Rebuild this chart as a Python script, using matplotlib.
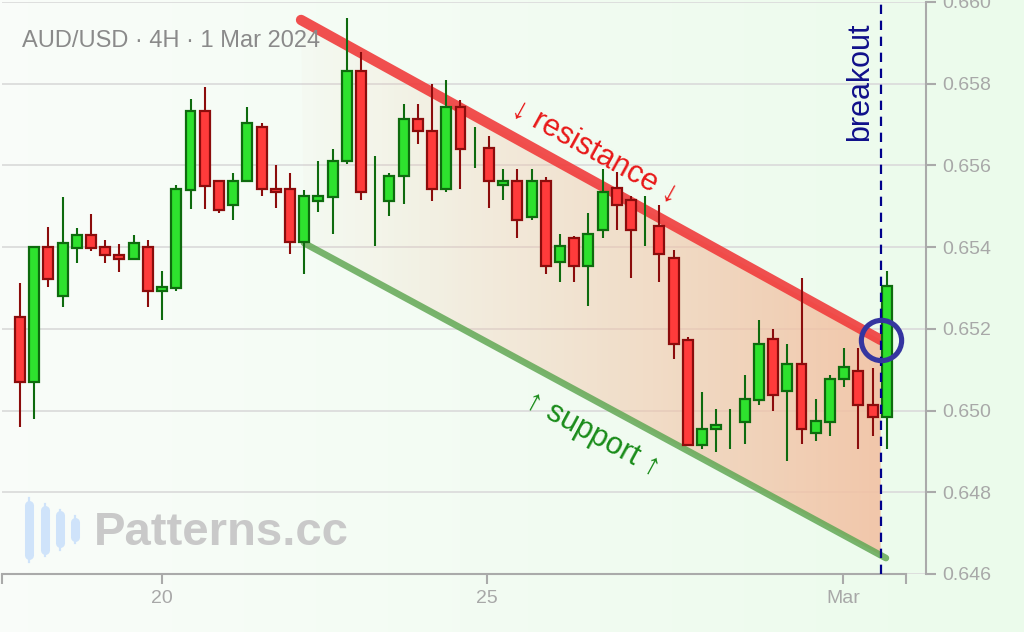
import numpy as np
import matplotlib.pyplot as plt
from matplotlib.patches import Rectangle, Polygon
from matplotlib.lines import Line2D

plt.rcParams['font.family'] = ['Liberation Sans', 'DejaVu Sans']

# 4H candles, AUD/USD
opens = [0.65229, 0.65071, 0.65400, 0.65281, 0.65399, 0.65430, 0.65400, 0.65381,
         0.65370, 0.65400, 0.65292, 0.65301, 0.65541, 0.65733, 0.65562, 0.65504,
         0.65562, 0.65695, 0.65543, 0.65543, 0.65412, 0.65514, 0.65522, 0.65611,
         0.65831, 0.65555, 0.65514, 0.65573, 0.65714, 0.65685, 0.65543, 0.65743,
         0.65640, 0.65642, 0.65553, 0.65563, 0.65474, 0.65563, 0.65363, 0.65423,
         0.65354, 0.65441, 0.65545, 0.65515, 0.65460, 0.65451, 0.65374, 0.65173,
         0.64915, 0.64955, 0.64960, 0.64973, 0.65026, 0.65174, 0.65048, 0.65115,
         0.64945, 0.64973, 0.65077, 0.65096, 0.65014, 0.64984]
highs = [0.65312, 0.65400, 0.65449, 0.65523, 0.65447, 0.65482, 0.65418, 0.65408,
         0.65429, 0.65418, 0.65341, 0.65551, 0.65762, 0.65792, 0.65562, 0.65581,
         0.65742, 0.65703, 0.65601, 0.65581, 0.65540, 0.65611, 0.65639, 0.65962,
         0.65877, 0.65622, 0.65581, 0.65751, 0.65751, 0.65800, 0.65810, 0.65761,
         0.65695, 0.65671, 0.65591, 0.65591, 0.65591, 0.65572, 0.65431, 0.65428,
         0.65484, 0.65591, 0.65583, 0.65524, 0.65524, 0.65504, 0.65393, 0.65181,
         0.65045, 0.65003, 0.65003, 0.65087, 0.65222, 0.65200, 0.65164, 0.65324,
         0.65028, 0.65087, 0.65153, 0.65153, 0.65105, 0.65342]
lows = [0.64960, 0.64980, 0.65302, 0.65253, 0.65361, 0.65390, 0.65361, 0.65339,
        0.65370, 0.65253, 0.65221, 0.65292, 0.65494, 0.65494, 0.65484, 0.65466,
        0.65562, 0.65524, 0.65496, 0.65384, 0.65335, 0.65486, 0.65432, 0.65603,
        0.65516, 0.65403, 0.65475, 0.65505, 0.65652, 0.65514, 0.65534, 0.65543,
        0.65593, 0.65496, 0.65516, 0.65423, 0.65467, 0.65335, 0.65315, 0.65315,
        0.65256, 0.65423, 0.65443, 0.65325, 0.65402, 0.65315, 0.65126, 0.64915,
        0.64907, 0.64898, 0.64907, 0.64917, 0.65014, 0.65000, 0.64877, 0.64917,
        0.64926, 0.64937, 0.65058, 0.64907, 0.64937, 0.64907]
closes = [0.65071, 0.65400, 0.65321, 0.65410, 0.65429, 0.65399, 0.65380, 0.65370,
          0.65410, 0.65292, 0.65302, 0.65543, 0.65733, 0.65550, 0.65492, 0.65563,
          0.65704, 0.65543, 0.65534, 0.65412, 0.65524, 0.65524, 0.65612, 0.65831,
          0.65534, 0.65555, 0.65573, 0.65714, 0.65684, 0.65543, 0.65743, 0.65640,
          0.65640, 0.65563, 0.65563, 0.65466, 0.65563, 0.65354, 0.65402, 0.65354,
          0.65433, 0.65535, 0.65504, 0.65441, 0.65460, 0.65382, 0.65163, 0.64915,
          0.64954, 0.64965, 0.64960, 0.65028, 0.65164, 0.65038, 0.65115, 0.64955,
          0.64975, 0.65077, 0.65106, 0.65014, 0.64984, 0.65305]

x_tick_pos = [10, 32.86, 57.92]
x_tick_labels = ['20', '25', 'Mar']
y_ticks = [0.646, 0.648, 0.650, 0.652, 0.654, 0.656, 0.658, 0.660]

# channel lines (candle index, price)
res_x = [19.78, 60.57]
res_y = [0.65956, 0.65173]
sup_x = [19.99, 60.94]
sup_y = [0.65410, 0.64639]
breakout_x = 60.57


def line_at(xs, ys, x):
    return ys[0] + (ys[1] - ys[0]) * (x - xs[0]) / (xs[1] - xs[0])


W, H = 1024, 632
fig = plt.figure(figsize=(W / 100, H / 100), dpi=100)

# pale green background
bg = fig.add_axes([0, 0, 1, 1], zorder=-10)
g = np.linspace(0, 1, 256)
c0 = np.array([0.978, 0.990, 0.978])
c1 = np.array([0.922, 0.986, 0.922])
bg.imshow((c0 + (c1 - c0) * g[:, None])[None, :, :], aspect='auto', extent=[0, 1, 0, 1])
bg.axis('off')

ax = fig.add_axes([2 / W, 1 - 574 / H, 924 / W, 572 / H])
ax.patch.set_alpha(0)
xlim = (-1.267, 63.76)
ylim = (0.646, 0.660)

# channel fill with gradient
poly = [(res_x[0], res_y[0]),
        (breakout_x, line_at(res_x, res_y, breakout_x)),
        (breakout_x, line_at(sup_x, sup_y, breakout_x)),
        (sup_x[0], sup_y[0])]
clip = Polygon(poly, closed=True, facecolor='none', edgecolor='none')
ax.add_patch(clip)
t = np.linspace(0, 1, 200)
rgba = np.zeros((2, 200, 4))
rgba[..., :3] = (0.950, 0.760, 0.640)
rgba[..., 3] = 0.04 + 0.86 * t ** 1.1
im = ax.imshow(rgba, extent=[res_x[0], breakout_x, ylim[0], ylim[1]], aspect='auto',
               origin='lower', zorder=1, interpolation='bilinear')
im.set_clip_path(clip)

# channel lines
ax.plot(res_x, res_y, color='#f03c3c', lw=7.5, alpha=0.9, solid_capstyle='round', zorder=2)
ax.plot(sup_x, sup_y, color='#62a855', lw=4.8, alpha=0.85, solid_capstyle='round', zorder=2)

# candles
bw = 0.7
for i, (o, h, l, c) in enumerate(zip(opens, highs, lows, closes)):
    up = c >= o
    fill = '#2ee22e' if up else '#ff3b3b'
    edge = '#0e6b0e' if up else '#8b0c0c'
    ax.plot([i, i], [l, h], color=edge, lw=1.5, zorder=3, solid_capstyle='butt')
    if o != c:
        ax.add_patch(Rectangle((i - bw / 2, min(o, c)), bw, abs(c - o),
                               facecolor=fill, edgecolor=edge, lw=1.6, zorder=4))

# breakout marker
ax.axvline(breakout_x, color='#00008b', lw=1.6, dashes=(4.2, 3.0), zorder=5)
ax.plot([breakout_x], [line_at(res_x, res_y, breakout_x)], 'o', ms=29, mfc='none',
        mec='#3535a0', mew=3.7, zorder=6)

ax.set_xlim(*xlim)
ax.set_ylim(*ylim)

# labels along the channel
def angle_of(xs, ys):
    p = ax.transData.transform(list(zip(xs, ys)))
    return np.degrees(np.arctan2(p[1][1] - p[0][1], p[1][0] - p[0][0]))

ax.text(40.46, 0.65633, '↓ resistance ↓', color='#e81818', fontsize=22,
        rotation=angle_of(res_x, res_y), rotation_mode='anchor', ha='center', va='center', zorder=5)
ax.text(40.32, 0.64942, '↑ support ↑', color='#1a8c1a', fontsize=22,
        rotation=angle_of(sup_x, sup_y), rotation_mode='anchor', ha='center', va='center', zorder=5)
ax.text(59.1, 0.65804, 'breakout', color='#10108a', fontsize=22, rotation=90,
        ha='center', va='center', zorder=5)

# axes styling
ax.yaxis.grid(True, color='#dcdcdc', lw=1.3, zorder=0)
ax.set_axisbelow(True)
ax.yaxis.tick_right()
ax.set_yticks(y_ticks)
ax.set_yticklabels([f'{v:.3f}' for v in y_ticks])
ax.set_xticks([xlim[0]] + x_tick_pos + [62.35])
ax.set_xticklabels([''] + x_tick_labels + [''])
for s in ['left', 'top']:
    ax.spines[s].set_visible(False)
for s in ['right', 'bottom']:
    ax.spines[s].set_color('#aaaaaa')
    ax.spines[s].set_linewidth(1.5)
ax.spines['bottom'].set_bounds(xlim[0], 62.35)
ax.tick_params(axis='both', direction='out', length=7.5, width=1.5, color='#aaaaaa',
               labelcolor='#a8a8a8', labelsize=14, pad=4)

# title and watermark
fig.text(22 / W, 1 - 41 / H, 'AUD/USD · 4H · 1 Mar 2024', color='#8a8a8a', fontsize=17,
         ha='left', va='center')
fig.text(94 / W, 1 - 533 / H, 'Patterns.cc', color='#c9c9c9', fontsize=34,
         fontweight='bold', ha='left', va='center')
logo = [(29, 498, 562, 505, 555), (45, 504, 556, 510, 550),
        (60, 510, 550, 515, 543), (75, 516, 543, 522, 537)]
for x, wt, wb, bt, bb in logo:
    fig.add_artist(Line2D([x, x], [H - wt, H - wb], color='#cfe3fa', lw=1.6, transform=None))
    fig.add_artist(Line2D([x, x], [H - bt, H - bb], color='#cfe3fa', lw=6.5,
                          solid_capstyle='round', transform=None))

fig.savefig('out.png', dpi=100)
